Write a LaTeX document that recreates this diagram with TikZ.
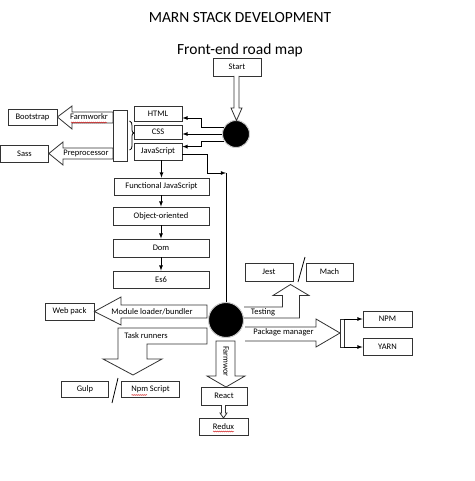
\documentclass[tikz,border=0pt]{standalone}
\usepackage{fontspec}
\setmainfont{Carlito}
\usetikzlibrary{decorations.pathmorphing}
\tikzstyle{box}=[draw=black!80,line width=.8pt,inner sep=1pt,
font=\fontsize{8.5}{10}\selectfont]
\tikzstyle{dot}=[circle,fill=black,draw=black!20,line width=1pt,inner sep=0pt]
\tikzstyle{fat}=[draw=black!80,line width=.8pt,fill=white,line join=miter]
\tikzstyle{lbl}=[inner sep=1pt,font=\fontsize{8.5}{10}\selectfont]
\tikzstyle{squiggle}=[red!80!black,line width=.4pt,decorate,
decoration={snake,amplitude=.5pt,segment length=2pt}]

\begin{document}
\begin{tikzpicture}[x=1pt,y=-1pt,>=latex,line width=.8pt]
        \useasboundingbox (0,0) rectangle (474,481);

        \node[font=\fontsize{15.5}{18}\selectfont] at (240,18) (title) {MARN STACK DEVELOPMENT};
        \node[font=\fontsize{15.5}{18}\selectfont] at (240,50) (subtitle) {Front-end road map};

        % upper part
        \node[box,minimum width=48pt,minimum height=18pt] at (237,67) (start) {Start};
        \node[dot,minimum size=27pt] at (236,134) (topdot) {};

        \node[box,minimum width=48pt,minimum height=15pt] at (158,114) (html) {HTML};
        \node[box,minimum width=48pt,minimum height=14pt] at (158,132) (css) {CSS};
        \node[box,minimum width=48pt,minimum height=17pt] at (158,151.5) (js) {JavaScript};

        \node[box,minimum width=49pt,minimum height=16pt] at (32.5,117) (bootstrap) {Bootstrap};
        \node[box,minimum width=48pt,minimum height=17pt] at (24.5,153.5) (sass) {Sass};

        \draw[fat] (bootstrap.east) -- (72,106) -- (72,112) -- (113,112)
          -- (113,123) -- (72,123) -- (72,129) -- cycle;
        \draw[fat] (sass.east) -- (63,142) -- (63,148) -- (113,148)
          -- (113,159) -- (63,159) -- (63,165) -- cycle;
        \draw[fat] (113,110) rectangle (127,161);
        \draw (129.5,121) to[out=0,in=90] (132,126) -- (132,130)
          to[out=-90,in=180] (134,133) to[out=180,in=90] (132,136)
          -- (132,146) to[out=-90,in=0] (129.5,150);
        \node[lbl] at (89,117) (frame1) {Farmworkr};
        \node[lbl] at (86,153.5) (pre) {Preprocessor};
        \draw[squiggle] (71,122.5) -- (107,122.5);

        \draw[fat] (234,76) -- (234,108) -- (231,108) -- (236.5,120.5)
          -- (242,108) -- (239,108) -- (239,76);

        \draw[->] (topdot.150) -- ++(-22,0) |- ([yshift=-4pt]html.east);
        \draw[->] (topdot.west) -- (topdot.west -| css.east);
        \draw[->] (topdot.210) -- ++(-22,0) |- ([yshift=-4pt]js.north east);

        % middle column
        \node[box,minimum width=95pt,minimum height=17pt] at (161.5,186.5) (funcjs) {Functional JavaScript};
        \node[box,minimum width=96pt,minimum height=18pt] at (161,216) (oop) {Object-oriented};
        \node[box,minimum width=96pt,minimum height=18pt] at (161,248) (dom) {Dom};
        \node[box,minimum width=96pt,minimum height=17pt] at (161,279.5) (es6) {Es6};

        \draw[->] (js.south -| funcjs.north) -- (funcjs.north);
        \draw[->] (funcjs.south -| oop.north) -- (oop.north);
        \draw[->] (oop.south) -- (dom.north);
        \draw[->] (dom.south) -- (es6.north);

        % lower part
        \node[dot,minimum size=35pt] at (226,320) (botdot) {};
        \coordinate (jsjoin) at (226,173);
        \draw[->] ([yshift=-3pt]js.east) -- ++(25,0) |- (jsjoin);
        \draw (jsjoin) -- (botdot.north);

        \node[box,minimum width=48pt,minimum height=18pt] at (269,272) (jest) {Jest};
        \node[box,minimum width=47pt,minimum height=18pt] at (329.5,272) (mach) {Mach};
        \draw (298,282) -- (305,257);
        \node[box,minimum width=49pt,minimum height=16pt] at (387.5,319) (npm) {NPM};
        \node[box,minimum width=49pt,minimum height=17pt] at (387.5,347) (yarn) {YARN};
        \node[box,minimum width=49pt,minimum height=17pt] at (69.5,311.5) (webpack) {Web pack};
        \node[box,minimum width=47pt,minimum height=16pt] at (85,389.5) (gulp) {Gulp};
        \node[box,minimum width=58pt,minimum height=16pt] at (150.5,389.5) (npmscript) {Npm Script};
        \draw (112,403) -- (118,378);
        \node[box,minimum width=46pt,minimum height=18pt] at (224,396) (react) {React};
        \node[box,minimum width=49pt,minimum height=17pt] at (223.5,426.5) (redux) {Redux};

        \draw[fat] (244,307) -- (282.5,307) -- (282.5,295.5) -- (273,295.5)
          -- (290.5,284.5) -- (309,295.5) -- (299.5,295.5) -- (299.5,318) -- (244,318);
        \draw[fat] (245,327) -- (316,327) -- (316,319) -- (340,333)
          -- (316,347) -- (316,341) -- (245,341);
        \draw[fat] (webpack.east) -- (121,297) -- (121,305) -- (207,305)
          -- (207,318) -- (121,318) -- (121,325) -- cycle;
        \draw[fat] (207,328) -- (118,328) -- (118,359) -- (103,359) -- (133,375)
          -- (162,359) -- (147,359) -- (147,344) -- (207,344) -- cycle;
        \draw[fat] (216,341) -- (216,376) -- (207,376) -- (226,387)
          -- (245,376) -- (235,376) -- (235,341) -- cycle;
        \draw[fat] (221.5,405) -- (221.5,413) -- (220,413) -- (223.5,418)
          -- (227,413) -- (225.5,413) -- (225.5,405);

        \node[lbl] at (263,312) (testing) {Testing};
        \node[lbl] at (283.5,332.5) (pkg) {Package manager};
        \node[lbl] at (152,311.5) (module) {Module loader/bundler};
        \node[lbl] at (146,336) (task) {Task runners};
        \node[lbl,rotate=-90] at (226,361.5) (frame2) {Farmwor};

        \draw[fat] (340,319) rectangle (344,347);
        \coordinate (pmtop) at (344,319);
        \coordinate (pmbot) at (344,347);
        \draw[->] (pmtop) -- (npm.west);
        \draw[->] (pmbot) -- (yarn.west);

        \draw[squiggle] (131.5,395) -- (147,395);
        \draw[squiggle] (213,431.5) -- (234,431.5);
      \end{tikzpicture}
\end{document}
